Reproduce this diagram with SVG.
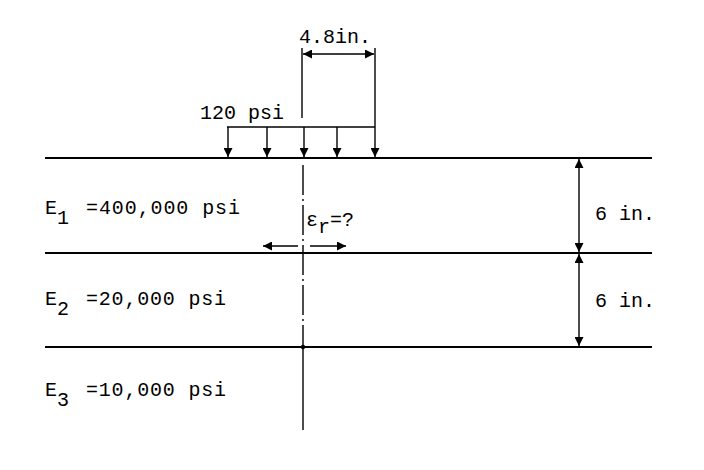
<svg xmlns="http://www.w3.org/2000/svg" width="704" height="470" viewBox="0 0 704 470">
<style>
.l{stroke:#000;stroke-width:2;fill:none}
.t{stroke:#000;stroke-width:1.4;fill:none}
text{font-family:"Liberation Mono","DejaVu Sans Mono",monospace;font-size:20px;fill:#000}
</style>
<defs>
<marker id="a" viewBox="0 0 10 10" refX="10" refY="5" markerWidth="11" markerHeight="9" markerUnits="userSpaceOnUse" orient="auto-start-reverse"><path d="M0,0L10,5L0,10z" fill="#000"/></marker>
</defs>
<rect width="704" height="470" fill="#fff"/>
<g id="layers">
<line class="l" x1="45" y1="158" x2="652" y2="158"/>
<line class="l" x1="45" y1="253" x2="652" y2="253"/>
<line class="l" x1="45" y1="347" x2="652" y2="347"/>
</g>
<g id="connectors">
<line class="t" x1="303" y1="165" x2="303" y2="347" stroke-dasharray="30,4,2,4"/>
<line class="t" x1="303" y1="347" x2="303" y2="430"/>
<circle cx="303" cy="347" r="2.2"/>
<line class="t" x1="302" y1="48" x2="302" y2="118"/>
<line class="t" x1="375" y1="48" x2="375" y2="127"/>
<line class="t" x1="303" y1="54" x2="374" y2="54" marker-start="url(#a)" marker-end="url(#a)"/>
<line class="t" x1="227" y1="127" x2="375" y2="127"/>
<line class="t" x1="228" y1="127" x2="228" y2="157" marker-end="url(#a)"/>
<line class="t" x1="267" y1="127" x2="267" y2="157" marker-end="url(#a)"/>
<line class="t" x1="304" y1="127" x2="304" y2="157" marker-end="url(#a)"/>
<line class="t" x1="337" y1="127" x2="337" y2="157" marker-end="url(#a)"/>
<line class="t" x1="375" y1="127" x2="375" y2="157" marker-end="url(#a)"/>
<line class="t" x1="579" y1="159" x2="579" y2="252" marker-start="url(#a)" marker-end="url(#a)"/>
<line class="t" x1="579" y1="254" x2="579" y2="346" marker-start="url(#a)" marker-end="url(#a)"/>
<line class="t" x1="298" y1="246" x2="263" y2="246" marker-end="url(#a)"/>
<line class="t" x1="310" y1="246" x2="346" y2="246" marker-end="url(#a)"/>
</g>
<g id="labels">
<text x="299" y="43">4.8in.</text>
<text x="200" y="119">120 psi</text>
<text x="595" y="220">6 in.</text>
<text x="595" y="307">6 in.</text>
<text x="306" y="226">ε<tspan dy="7">r</tspan><tspan dy="-7">=?</tspan></text>
<text x="45" y="214">E<tspan dy="10">1</tspan></text>
<text x="86" y="214" textLength="154">=400,000 psi</text>
<text x="45" y="305">E<tspan dy="10">2</tspan></text>
<text x="86" y="305" textLength="140">=20,000 psi</text>
<text x="45" y="396">E<tspan dy="10">3</tspan></text>
<text x="86" y="396" textLength="140">=10,000 psi</text>
</g>
</svg>
